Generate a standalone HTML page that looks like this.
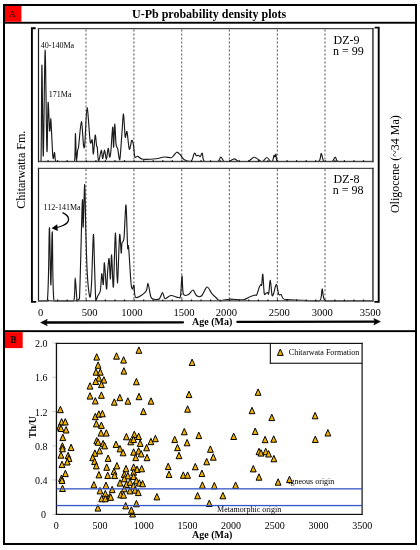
<!DOCTYPE html>
<html><head><meta charset="utf-8"><style>
html,body{margin:0;padding:0;background:#fff;}
body{width:420px;height:550px;overflow:hidden;}
svg{display:block;}
.s{font-family:"Liberation Serif","Times New Roman",serif;fill:#000;}
</style></head><body>
<svg width="420" height="550" viewBox="0 0 420 550">
<rect width="420" height="550" fill="#fff"/>
<rect x="3" y="4" width="414" height="2" fill="#000"/>
<rect x="3" y="4" width="2" height="541" fill="#000"/>
<rect x="415" y="4" width="2" height="541" fill="#000"/>
<rect x="3" y="21.8" width="414" height="1.9" fill="#000"/>
<rect x="3" y="330.2" width="414" height="1.9" fill="#000"/>
<rect x="3" y="543" width="414" height="2" fill="#000"/>
<rect x="5" y="6" width="16.4" height="15.8" fill="#FF0000"/>
<text x="12.6" y="17.2" font-size="9" text-anchor="middle" class="s">A</text>
<rect x="5" y="332.1" width="17.7" height="16" fill="#FF0000"/>
<text x="13.5" y="343.4" font-size="9.5" text-anchor="middle" class="s" font-weight="bold">B</text>
<text x="132" y="17.6" font-size="12" font-weight="bold" class="s">U-Pb probability density plots</text>
<path d="M35.7 28.2H31.9V301.9H36.2" fill="none" stroke="#000" stroke-width="1.9"/>
<path d="M374.6 27.6H378.7V301.9H374.4" fill="none" stroke="#000" stroke-width="1.9"/>
<text transform="translate(25.2 169.7) rotate(-90)" font-size="12" text-anchor="middle" class="s">Chitarwatta Fm.</text>
<text transform="translate(399.2 164.2) rotate(-90)" font-size="12" text-anchor="middle" class="s">Oligocene (~34 Ma)</text>
<line x1="86.0" y1="29.4" x2="86.0" y2="160.8" stroke="#6a6a6a" stroke-width="1.2" stroke-dasharray="2.1 1.9"/>
<line x1="86.0" y1="169.2" x2="86.0" y2="300.1" stroke="#6a6a6a" stroke-width="1.2" stroke-dasharray="2.1 1.9"/>
<line x1="133.9" y1="29.4" x2="133.9" y2="160.8" stroke="#6a6a6a" stroke-width="1.2" stroke-dasharray="2.1 1.9"/>
<line x1="133.9" y1="169.2" x2="133.9" y2="300.1" stroke="#6a6a6a" stroke-width="1.2" stroke-dasharray="2.1 1.9"/>
<line x1="181.7" y1="29.4" x2="181.7" y2="160.8" stroke="#6a6a6a" stroke-width="1.2" stroke-dasharray="2.1 1.9"/>
<line x1="181.7" y1="169.2" x2="181.7" y2="300.1" stroke="#6a6a6a" stroke-width="1.2" stroke-dasharray="2.1 1.9"/>
<line x1="229.4" y1="29.4" x2="229.4" y2="160.8" stroke="#6a6a6a" stroke-width="1.2" stroke-dasharray="2.1 1.9"/>
<line x1="229.4" y1="169.2" x2="229.4" y2="300.1" stroke="#6a6a6a" stroke-width="1.2" stroke-dasharray="2.1 1.9"/>
<line x1="277.4" y1="29.4" x2="277.4" y2="160.8" stroke="#6a6a6a" stroke-width="1.2" stroke-dasharray="2.1 1.9"/>
<line x1="277.4" y1="169.2" x2="277.4" y2="300.1" stroke="#6a6a6a" stroke-width="1.2" stroke-dasharray="2.1 1.9"/>
<line x1="325.0" y1="29.4" x2="325.0" y2="160.8" stroke="#6a6a6a" stroke-width="1.2" stroke-dasharray="2.1 1.9"/>
<line x1="325.0" y1="169.2" x2="325.0" y2="300.1" stroke="#6a6a6a" stroke-width="1.2" stroke-dasharray="2.1 1.9"/>
<path d="M38.50 161.50C38.88 161.50 40.49 161.50 41.00 161.50C41.51 147.03 41.55 65.83 41.90 65.00C42.24 64.17 42.82 158.22 43.30 156.00C43.78 153.78 44.56 50.95 45.10 50.20C45.64 49.45 46.45 143.16 46.90 151.00C47.35 158.84 47.70 105.50 48.10 102.50C48.51 99.50 49.20 128.62 49.60 131.00C50.01 133.38 50.52 118.40 50.80 118.40C51.08 118.40 51.17 125.06 51.50 131.00C51.83 136.94 52.53 154.78 53.00 158.00C53.47 161.22 54.15 151.97 54.60 152.50C55.05 153.03 54.60 160.15 56.00 161.50C58.98 161.50 71.59 161.50 74.50 161.50C75.40 157.31 75.12 133.90 75.40 133.60C75.69 133.30 76.06 157.04 76.40 159.50C76.75 161.50 77.37 151.95 77.70 150.00C78.03 148.05 78.04 150.76 78.60 146.50C79.16 142.24 80.67 121.80 81.40 121.60C82.14 121.40 82.99 141.85 83.50 145.20C84.01 148.54 84.26 149.53 84.80 143.90C85.34 138.28 86.29 108.03 87.10 107.70C87.91 107.37 89.44 136.87 90.20 141.70C90.97 146.53 91.72 138.06 92.20 139.90C92.68 141.75 92.95 154.71 93.40 154.00C93.85 153.29 94.72 136.40 95.20 135.20C95.68 134.00 96.28 144.16 96.60 146.00C96.91 147.84 97.00 145.18 97.30 147.50C97.60 149.82 98.00 161.06 98.60 161.50C99.20 161.50 100.69 150.81 101.30 150.40C101.91 150.00 102.22 158.85 102.70 158.80C103.18 158.75 103.94 150.04 104.50 150.10C105.06 150.16 105.84 159.47 106.40 159.20C106.96 158.93 107.72 148.63 108.20 148.30C108.68 147.97 109.19 156.59 109.60 157.00C110.00 157.41 110.44 155.50 110.90 151.00C111.37 146.50 112.30 127.55 112.70 127.00C113.11 126.45 113.30 147.74 113.60 147.30C113.90 146.87 114.33 124.50 114.70 124.10C115.08 123.69 115.65 140.91 116.10 144.60C116.55 148.29 117.14 146.45 117.70 148.70C118.26 150.95 119.19 161.50 119.80 159.60C120.41 157.54 121.24 141.85 121.80 135.00C122.36 128.15 122.99 113.60 123.50 113.90C124.01 114.20 124.67 134.34 125.20 137.00C125.73 139.66 126.39 129.75 127.00 131.60C127.61 133.44 128.60 147.97 129.30 149.30C130.00 150.64 131.08 141.21 131.70 140.50C132.31 139.79 132.94 142.16 133.40 144.60C133.87 147.04 134.16 155.05 134.80 156.80C135.45 158.56 136.51 155.94 137.70 156.30C138.88 156.66 139.95 158.84 142.70 159.20C145.44 159.56 152.76 159.03 156.00 158.70C159.24 158.37 162.05 157.15 164.30 157.00C166.55 156.85 169.62 157.88 171.00 157.70C172.38 157.52 172.63 156.62 173.50 155.80C174.37 154.98 175.80 152.36 176.80 152.20C177.81 152.03 179.07 153.57 180.20 154.70C181.32 155.82 182.68 158.68 184.30 159.70C185.92 160.72 189.50 161.50 191.00 161.50C192.50 160.54 193.50 154.16 194.30 153.30C195.10 152.45 195.67 155.50 196.30 155.80C196.93 156.10 197.91 155.17 198.50 155.30C199.09 155.44 199.63 157.00 200.20 156.70C200.77 156.40 201.66 152.58 202.30 153.30C202.95 154.02 202.30 160.27 204.50 161.50C206.78 161.50 215.06 161.50 217.50 161.50C219.94 160.82 219.83 157.00 220.80 157.00C221.78 157.00 222.77 160.82 224.00 161.50C225.23 161.50 227.47 161.50 229.00 161.50C230.53 161.09 232.70 158.80 234.20 158.80C235.70 158.80 236.93 161.09 239.00 161.50C241.07 161.50 245.72 161.50 248.00 161.50C250.28 160.85 252.25 157.20 254.20 157.20C256.15 157.20 259.68 160.85 261.00 161.50C262.32 161.50 262.13 161.50 263.00 161.50C263.87 160.90 265.65 157.50 266.80 157.50C267.95 157.50 269.84 160.90 270.70 161.50C271.56 161.50 272.00 161.50 272.50 161.50C273.00 160.57 273.62 155.98 274.00 155.30C274.38 154.62 274.70 157.16 275.00 157.00C275.30 156.84 275.65 153.52 276.00 154.20C276.35 154.88 276.00 160.41 277.30 161.50C283.68 161.50 311.92 161.50 318.50 161.50C321.20 160.27 320.38 153.30 321.20 153.30C322.02 153.30 322.38 160.27 324.00 161.50C325.62 161.50 330.31 161.50 332.00 161.50C333.69 160.82 334.36 157.00 335.30 157.00C336.25 157.00 335.30 160.82 338.30 161.50C343.95 161.50 367.80 161.50 373.00 161.50" fill="none" stroke="#1a1a1a" stroke-width="1.15" stroke-linejoin="round"/>
<path d="M38.50 300.80C39.82 300.80 45.66 300.80 47.30 300.80C48.93 289.85 48.88 230.17 49.40 227.80C49.92 225.43 50.36 284.37 50.80 285.00C51.23 285.63 51.82 229.63 52.30 232.00C52.78 234.37 52.30 290.48 54.00 300.80C57.23 300.80 70.62 300.80 73.80 300.80C75.20 297.35 74.70 277.80 75.20 277.80C75.70 277.80 76.45 297.77 77.10 300.80C77.74 300.80 78.72 300.80 79.50 298.00C80.28 283.11 81.74 212.15 82.30 201.50C82.86 190.85 82.84 229.55 83.20 227.00C83.56 224.45 84.31 184.05 84.70 184.50C85.09 184.95 85.45 217.47 85.80 230.00C86.14 242.53 86.59 259.15 87.00 268.00C87.41 276.85 88.02 284.65 88.50 289.00C88.98 293.35 89.73 298.05 90.20 297.00C90.67 295.95 91.12 291.38 91.60 282.00C92.08 272.62 92.95 236.60 93.40 234.50C93.85 232.40 94.24 258.25 94.60 268.00C94.96 277.75 95.29 295.38 95.80 299.50C96.31 300.80 97.31 296.85 98.00 295.50C98.69 294.15 99.83 293.77 100.40 290.50C100.97 287.23 101.36 274.58 101.80 273.70C102.23 272.81 102.91 286.24 103.30 284.60C103.69 282.97 103.92 262.14 104.40 262.80C104.88 263.46 106.02 287.62 106.50 289.00C106.98 290.38 107.21 276.57 107.60 272.00C107.99 267.43 108.68 257.45 109.10 258.50C109.52 259.55 110.03 279.52 110.40 279.00C110.78 278.48 111.15 253.80 111.60 255.00C112.05 256.20 112.83 290.30 113.40 287.00C113.97 283.70 114.80 233.60 115.40 233.00C116.00 232.40 116.77 282.70 117.40 283.00C118.03 283.30 119.03 239.50 119.60 235.00C120.17 230.50 120.84 251.80 121.20 253.00C121.56 254.20 121.58 245.25 122.00 243.00C122.42 240.75 123.40 243.70 124.00 238.00C124.60 232.30 125.46 203.65 126.00 205.00C126.54 206.35 127.21 240.70 127.60 247.00C127.99 253.30 128.09 241.60 128.60 247.00C129.11 252.40 130.43 276.70 131.00 283.00C131.57 289.30 131.95 288.64 132.40 289.00C132.85 289.36 133.49 284.12 134.00 285.40C134.51 286.67 134.03 296.56 135.80 297.50C137.57 298.44 143.97 293.77 145.80 291.70C147.63 289.63 147.25 282.95 148.00 283.70C148.75 284.45 150.00 294.40 150.80 296.70C151.60 299.00 152.04 298.65 153.30 299.00C154.56 299.35 157.82 299.98 159.20 299.00C160.58 298.02 161.63 292.55 162.50 292.50C163.37 292.45 163.75 298.25 165.00 298.70C166.25 299.15 168.81 295.68 170.80 295.50C172.80 295.32 176.85 297.43 178.30 297.50C179.75 297.57 179.94 299.25 180.50 296.00C181.06 292.75 181.58 276.15 182.00 275.80C182.42 275.45 182.36 290.87 183.30 293.70C184.25 296.53 186.85 295.25 188.30 294.70C189.75 294.14 191.74 289.83 193.00 290.00C194.26 290.17 195.39 294.93 196.70 295.80C198.00 296.67 200.15 297.12 201.70 295.80C203.25 294.48 205.50 287.38 207.00 287.00C208.50 286.62 210.25 291.61 211.70 293.30C213.15 295.00 215.45 297.18 216.70 298.30C217.94 299.43 218.05 300.67 220.00 300.80C221.95 300.80 226.20 299.37 229.70 299.20C233.19 299.03 240.25 300.07 243.30 299.70C246.35 299.32 248.25 297.40 250.00 296.70C251.75 296.00 254.00 295.25 255.00 295.00C256.00 294.75 256.07 296.12 256.70 295.00C257.33 293.88 258.58 289.05 259.20 287.50C259.81 285.95 260.43 285.07 260.80 284.70C261.18 284.32 261.40 286.57 261.70 285.00C262.00 283.43 262.43 272.95 262.80 274.20C263.18 275.44 263.75 290.44 264.20 293.30C264.65 296.17 265.31 293.42 265.80 293.30C266.30 293.18 267.06 292.44 267.50 292.50C267.94 292.56 268.28 295.53 268.70 293.70C269.12 291.87 269.81 280.11 270.30 280.30C270.80 280.50 271.49 293.05 272.00 295.00C272.51 296.95 273.06 294.92 273.70 293.30C274.34 291.68 275.55 284.06 276.30 284.20C277.05 284.33 277.95 292.62 278.70 294.20C279.45 295.77 280.48 293.95 281.30 294.70C282.12 295.45 281.30 298.28 284.20 299.20C289.96 300.12 314.00 300.80 319.70 300.80C322.20 299.23 321.36 288.70 322.20 288.70C323.04 288.70 322.20 298.99 325.30 300.80C332.92 300.80 365.85 300.80 373.00 300.80" fill="none" stroke="#1a1a1a" stroke-width="1.15" stroke-linejoin="round"/>
<rect x="37.9" y="28.1" width="1.2" height="134.10000000000002" fill="#1a1a1a"/>
<rect x="372.3" y="28.1" width="1.3" height="134.10000000000002" fill="#1a1a1a"/>
<rect x="37.9" y="28.1" width="335.7" height="1.1" fill="#333"/>
<rect x="37.9" y="160.8" width="335.7" height="1.4" fill="#444"/>
<rect x="47.5" y="160.2" width="1.2" height="1.6" fill="#111"/>
<rect x="57.0" y="160.2" width="1.2" height="1.6" fill="#111"/>
<rect x="66.6" y="160.2" width="1.2" height="1.6" fill="#111"/>
<rect x="76.1" y="160.2" width="1.2" height="1.6" fill="#111"/>
<rect x="85.7" y="160.2" width="1.2" height="1.6" fill="#111"/>
<rect x="95.3" y="160.2" width="1.2" height="1.6" fill="#111"/>
<rect x="104.8" y="160.2" width="1.2" height="1.6" fill="#111"/>
<rect x="114.4" y="160.2" width="1.2" height="1.6" fill="#111"/>
<rect x="123.9" y="160.2" width="1.2" height="1.6" fill="#111"/>
<rect x="133.5" y="160.2" width="1.2" height="1.6" fill="#111"/>
<rect x="143.1" y="160.2" width="1.2" height="1.6" fill="#111"/>
<rect x="152.6" y="160.2" width="1.2" height="1.6" fill="#111"/>
<rect x="162.2" y="160.2" width="1.2" height="1.6" fill="#111"/>
<rect x="171.7" y="160.2" width="1.2" height="1.6" fill="#111"/>
<rect x="181.3" y="160.2" width="1.2" height="1.6" fill="#111"/>
<rect x="190.9" y="160.2" width="1.2" height="1.6" fill="#111"/>
<rect x="200.4" y="160.2" width="1.2" height="1.6" fill="#111"/>
<rect x="210.0" y="160.2" width="1.2" height="1.6" fill="#111"/>
<rect x="219.5" y="160.2" width="1.2" height="1.6" fill="#111"/>
<rect x="229.1" y="160.2" width="1.2" height="1.6" fill="#111"/>
<rect x="238.7" y="160.2" width="1.2" height="1.6" fill="#111"/>
<rect x="248.2" y="160.2" width="1.2" height="1.6" fill="#111"/>
<rect x="257.8" y="160.2" width="1.2" height="1.6" fill="#111"/>
<rect x="267.3" y="160.2" width="1.2" height="1.6" fill="#111"/>
<rect x="276.9" y="160.2" width="1.2" height="1.6" fill="#111"/>
<rect x="286.5" y="160.2" width="1.2" height="1.6" fill="#111"/>
<rect x="296.0" y="160.2" width="1.2" height="1.6" fill="#111"/>
<rect x="305.6" y="160.2" width="1.2" height="1.6" fill="#111"/>
<rect x="315.1" y="160.2" width="1.2" height="1.6" fill="#111"/>
<rect x="324.7" y="160.2" width="1.2" height="1.6" fill="#111"/>
<rect x="334.3" y="160.2" width="1.2" height="1.6" fill="#111"/>
<rect x="343.8" y="160.2" width="1.2" height="1.6" fill="#111"/>
<rect x="353.4" y="160.2" width="1.2" height="1.6" fill="#111"/>
<rect x="362.9" y="160.2" width="1.2" height="1.6" fill="#111"/>
<rect x="37.9" y="167.8" width="1.2" height="133.70000000000002" fill="#1a1a1a"/>
<rect x="372.3" y="167.8" width="1.3" height="133.70000000000002" fill="#1a1a1a"/>
<rect x="37.9" y="167.8" width="335.7" height="1.1" fill="#333"/>
<rect x="37.9" y="300.1" width="335.7" height="1.4" fill="#5a5a5a"/>
<rect x="47.5" y="299.5" width="1.2" height="1.6" fill="#111"/>
<rect x="57.0" y="299.5" width="1.2" height="1.6" fill="#111"/>
<rect x="66.6" y="299.5" width="1.2" height="1.6" fill="#111"/>
<rect x="76.1" y="299.5" width="1.2" height="1.6" fill="#111"/>
<rect x="85.7" y="299.5" width="1.2" height="1.6" fill="#111"/>
<rect x="95.3" y="299.5" width="1.2" height="1.6" fill="#111"/>
<rect x="104.8" y="299.5" width="1.2" height="1.6" fill="#111"/>
<rect x="114.4" y="299.5" width="1.2" height="1.6" fill="#111"/>
<rect x="123.9" y="299.5" width="1.2" height="1.6" fill="#111"/>
<rect x="133.5" y="299.5" width="1.2" height="1.6" fill="#111"/>
<rect x="143.1" y="299.5" width="1.2" height="1.6" fill="#111"/>
<rect x="152.6" y="299.5" width="1.2" height="1.6" fill="#111"/>
<rect x="162.2" y="299.5" width="1.2" height="1.6" fill="#111"/>
<rect x="171.7" y="299.5" width="1.2" height="1.6" fill="#111"/>
<rect x="181.3" y="299.5" width="1.2" height="1.6" fill="#111"/>
<rect x="190.9" y="299.5" width="1.2" height="1.6" fill="#111"/>
<rect x="200.4" y="299.5" width="1.2" height="1.6" fill="#111"/>
<rect x="210.0" y="299.5" width="1.2" height="1.6" fill="#111"/>
<rect x="219.5" y="299.5" width="1.2" height="1.6" fill="#111"/>
<rect x="229.1" y="299.5" width="1.2" height="1.6" fill="#111"/>
<rect x="238.7" y="299.5" width="1.2" height="1.6" fill="#111"/>
<rect x="248.2" y="299.5" width="1.2" height="1.6" fill="#111"/>
<rect x="257.8" y="299.5" width="1.2" height="1.6" fill="#111"/>
<rect x="267.3" y="299.5" width="1.2" height="1.6" fill="#111"/>
<rect x="276.9" y="299.5" width="1.2" height="1.6" fill="#111"/>
<rect x="286.5" y="299.5" width="1.2" height="1.6" fill="#111"/>
<rect x="296.0" y="299.5" width="1.2" height="1.6" fill="#111"/>
<rect x="305.6" y="299.5" width="1.2" height="1.6" fill="#111"/>
<rect x="315.1" y="299.5" width="1.2" height="1.6" fill="#111"/>
<rect x="324.7" y="299.5" width="1.2" height="1.6" fill="#111"/>
<rect x="334.3" y="299.5" width="1.2" height="1.6" fill="#111"/>
<rect x="343.8" y="299.5" width="1.2" height="1.6" fill="#111"/>
<rect x="353.4" y="299.5" width="1.2" height="1.6" fill="#111"/>
<rect x="362.9" y="299.5" width="1.2" height="1.6" fill="#111"/>
<text x="40.8" y="47.5" font-size="8" class="s">40-140Ma</text>
<text x="48.8" y="97" font-size="8" class="s">171Ma</text>
<text x="43.6" y="209.8" font-size="8" class="s">112-141Ma</text>
<path d="M62.5 212.7C70 216 71 222 63 225.5C60 226.8 58 227.4 55.5 227.6" fill="none" stroke="#000" stroke-width="1.3"/>
<path d="M51.6 228.3L57.2 224.3L57.8 231Z" fill="#000"/>
<text x="333.5" y="43.7" font-size="12" class="s">DZ-9</text>
<text x="333" y="54.8" font-size="12" class="s">n = 99</text>
<text x="333.5" y="182.9" font-size="12" class="s">DZ-8</text>
<text x="332.7" y="194.3" font-size="12" class="s">n = 98</text>
<text x="40.7" y="315.8" font-size="10.6" text-anchor="middle" class="s">0</text>
<text x="89.6" y="315.8" font-size="10.6" text-anchor="middle" class="s">500</text>
<text x="131.9" y="315.8" font-size="10.6" text-anchor="middle" class="s">1000</text>
<text x="184" y="315.8" font-size="10.6" text-anchor="middle" class="s">1500</text>
<text x="226.4" y="315.8" font-size="10.6" text-anchor="middle" class="s">2000</text>
<text x="279.3" y="315.8" font-size="10.6" text-anchor="middle" class="s">2500</text>
<text x="322.3" y="315.8" font-size="10.6" text-anchor="middle" class="s">3000</text>
<text x="370.3" y="315.8" font-size="10.6" text-anchor="middle" class="s">3500</text>
<text x="212.2" y="325.4" font-size="10" font-weight="bold" text-anchor="middle" class="s">Age (Ma)</text>
<path d="M45 322.5L183 322.3M237.4 321.9L375 321.6" stroke="#000" stroke-width="2.3" stroke-linecap="round" fill="none"/>
<path d="M40.6 322.6L47.3 319.3L46.2 322.6L47.3 325.8Z" fill="#000" stroke="#000" stroke-width="0.5" stroke-linejoin="round"/>
<path d="M380.4 321.6L373.8 318.5L374.9 321.6L373.8 324.9Z" fill="#000" stroke="#000" stroke-width="0.5" stroke-linejoin="round"/>
<text x="47.6" y="347.0" font-size="10" text-anchor="end" class="s">2.0</text>
<line x1="52.5" y1="343.0" x2="56" y2="343.0" stroke="#aaa" stroke-width="0.6"/>
<text x="47.6" y="381.3" font-size="10" text-anchor="end" class="s">1.6</text>
<line x1="52.5" y1="377.3" x2="56" y2="377.3" stroke="#aaa" stroke-width="0.6"/>
<text x="47.6" y="415.5" font-size="10" text-anchor="end" class="s">1.2</text>
<line x1="52.5" y1="411.5" x2="56" y2="411.5" stroke="#aaa" stroke-width="0.6"/>
<text x="47.6" y="449.8" font-size="10" text-anchor="end" class="s">0.8</text>
<line x1="52.5" y1="445.8" x2="56" y2="445.8" stroke="#aaa" stroke-width="0.6"/>
<text x="47.6" y="484.0" font-size="10" text-anchor="end" class="s">0.4</text>
<line x1="52.5" y1="480.0" x2="56" y2="480.0" stroke="#aaa" stroke-width="0.6"/>
<text x="46.0" y="518.3" font-size="10" text-anchor="end" class="s">0</text>
<line x1="52.5" y1="514.3" x2="56" y2="514.3" stroke="#aaa" stroke-width="0.6"/>
<text x="56.2" y="528.6" font-size="10" text-anchor="middle" class="s">0</text>
<text x="99.9" y="528.6" font-size="10" text-anchor="middle" class="s">500</text>
<text x="143.7" y="528.6" font-size="10" text-anchor="middle" class="s">1000</text>
<text x="187.4" y="528.6" font-size="10" text-anchor="middle" class="s">1500</text>
<text x="231.1" y="528.6" font-size="10" text-anchor="middle" class="s">2000</text>
<text x="274.8" y="528.6" font-size="10" text-anchor="middle" class="s">2500</text>
<text x="318.6" y="528.6" font-size="10" text-anchor="middle" class="s">3000</text>
<text x="362.3" y="528.6" font-size="10" text-anchor="middle" class="s">3500</text>
<text x="212.2" y="538.2" font-size="10" font-weight="bold" text-anchor="middle" class="s">Age (Ma)</text>
<text transform="translate(35.9 427.1) rotate(-90)" font-size="10" font-weight="bold" text-anchor="middle" class="s">Th/U</text>
<text x="287.9" y="484.3" font-size="8" class="s">Igneous origin</text>
<text x="217.1" y="512.4" font-size="8" class="s">Metamorphic origin</text>
<rect x="269.8" y="342.8" width="1.1" height="21" fill="#111"/>
<rect x="269.8" y="362.7" width="92.5" height="1.1" fill="#111"/>
<text x="288.8" y="355.3" font-size="8" class="s">Chitarwata Formation</text>
<g fill="#F2B300" stroke="#000" stroke-width="1" stroke-linejoin="miter">
<path d="M280.3 349.0L283.2 355.4H277.4Z"/>
<path d="M60.4 406.3L63.3 412.7H57.5Z"/>
<path d="M61.6 418.6L64.5 425.0H58.7Z"/>
<path d="M65.3 418.6L68.2 425.0H62.4Z"/>
<path d="M59.6 423.6L62.5 430.0H56.7Z"/>
<path d="M61.0 425.1L63.9 431.5H58.1Z"/>
<path d="M66.1 426.6L69.0 433.0H63.2Z"/>
<path d="M62.8 434.2L65.7 440.6H59.9Z"/>
<path d="M62.4 442.8L65.3 449.2H59.5Z"/>
<path d="M62.5 445.4L65.4 451.8H59.6Z"/>
<path d="M71.1 444.2L74.0 450.6H68.2Z"/>
<path d="M61.0 451.8L63.9 458.2H58.1Z"/>
<path d="M68.1 452.3L71.0 458.7H65.2Z"/>
<path d="M69.0 455.1L71.9 461.5H66.1Z"/>
<path d="M67.3 458.6L70.2 465.0H64.4Z"/>
<path d="M62.0 461.2L64.9 467.6H59.1Z"/>
<path d="M65.4 470.2L68.3 476.6H62.5Z"/>
<path d="M61.5 475.0L64.4 481.4H58.6Z"/>
<path d="M62.0 477.1L64.9 483.5H59.1Z"/>
<path d="M62.5 485.1L65.4 491.5H59.6Z"/>
<path d="M96.7 353.7L99.6 360.1H93.8Z"/>
<path d="M98.1 361.9L101.0 368.3H95.2Z"/>
<path d="M96.0 368.8L98.9 375.2H93.1Z"/>
<path d="M100.3 368.8L103.2 375.2H97.4Z"/>
<path d="M98.9 374.8L101.8 381.2H96.0Z"/>
<path d="M103.9 376.7L106.8 383.1H101.0Z"/>
<path d="M95.7 378.1L98.6 384.5H92.8Z"/>
<path d="M101.4 381.2L104.3 387.6H98.5Z"/>
<path d="M90.0 382.7L92.9 389.1H87.1Z"/>
<path d="M90.0 392.7L92.9 399.1H87.1Z"/>
<path d="M101.4 391.9L104.3 398.3H98.5Z"/>
<path d="M95.3 397.6L98.2 404.0H92.4Z"/>
<path d="M114.3 398.8L117.2 405.2H111.4Z"/>
<path d="M95.3 413.3L98.2 419.7H92.4Z"/>
<path d="M98.9 410.8L101.8 417.2H96.0Z"/>
<path d="M102.4 410.4L105.3 416.8H99.5Z"/>
<path d="M96.3 420.5L99.2 426.9H93.4Z"/>
<path d="M101.4 422.0L104.3 428.4H98.5Z"/>
<path d="M101.0 429.7L103.9 436.1H98.1Z"/>
<path d="M106.3 429.7L109.2 436.1H103.4Z"/>
<path d="M96.7 437.5L99.6 443.9H93.8Z"/>
<path d="M98.1 438.9L101.0 445.3H95.2Z"/>
<path d="M103.1 440.4L106.0 446.8H100.2Z"/>
<path d="M104.6 442.5L107.5 448.9H101.7Z"/>
<path d="M99.6 447.5L102.5 453.9H96.7Z"/>
<path d="M94.9 449.9L97.8 456.3H92.0Z"/>
<path d="M92.7 454.3L95.6 460.7H89.8Z"/>
<path d="M108.1 455.0L111.0 461.4H105.2Z"/>
<path d="M116.0 441.0L118.9 447.4H113.1Z"/>
<path d="M94.6 458.2L97.5 464.6H91.7Z"/>
<path d="M96.3 462.5L99.2 468.9H93.4Z"/>
<path d="M106.7 463.9L109.6 470.3H103.8Z"/>
<path d="M98.9 471.5L101.8 477.9H96.0Z"/>
<path d="M107.7 472.1L110.6 478.5H104.8Z"/>
<path d="M114.0 468.2L116.9 474.6H111.1Z"/>
<path d="M114.6 472.2L117.5 478.6H111.7Z"/>
<path d="M93.9 481.5L96.8 487.9H91.0Z"/>
<path d="M106.0 482.1L108.9 488.5H103.1Z"/>
<path d="M100.0 487.5L102.9 493.9H97.1Z"/>
<path d="M112.2 486.3L115.1 492.7H109.3Z"/>
<path d="M105.3 490.4L108.2 496.8H102.4Z"/>
<path d="M109.6 493.5L112.5 499.9H106.7Z"/>
<path d="M101.7 495.4L104.6 501.8H98.8Z"/>
<path d="M105.3 495.4L108.2 501.8H102.4Z"/>
<path d="M97.9 504.7L100.8 511.1H95.0Z"/>
<path d="M110.7 493.9L113.6 500.3H107.8Z"/>
<path d="M138.9 346.9L141.8 353.3H136.0Z"/>
<path d="M116.5 352.8L119.4 359.2H113.6Z"/>
<path d="M123.6 356.7L126.5 363.1H120.7Z"/>
<path d="M123.9 367.7L126.8 374.1H121.0Z"/>
<path d="M136.4 378.4L139.3 384.8H133.5Z"/>
<path d="M119.8 394.3L122.7 400.7H116.9Z"/>
<path d="M139.0 393.3L141.9 399.7H136.1Z"/>
<path d="M127.9 397.8L130.8 404.2H125.0Z"/>
<path d="M151.0 397.8L153.9 404.2H148.1Z"/>
<path d="M143.4 408.2L146.3 414.6H140.5Z"/>
<path d="M126.4 433.4L129.3 439.8H123.5Z"/>
<path d="M134.3 431.2L137.2 437.6H131.4Z"/>
<path d="M138.6 433.1L141.5 439.5H135.7Z"/>
<path d="M130.7 438.4L133.6 444.8H127.8Z"/>
<path d="M133.6 436.2L136.5 442.6H130.7Z"/>
<path d="M140.2 440.0L143.1 446.4H137.3Z"/>
<path d="M150.9 438.3L153.8 444.7H148.0Z"/>
<path d="M155.4 435.3L158.3 441.7H152.5Z"/>
<path d="M120.0 445.5L122.9 451.9H117.1Z"/>
<path d="M123.1 449.4L126.0 455.8H120.2Z"/>
<path d="M133.6 448.8L136.5 455.2H130.7Z"/>
<path d="M138.6 447.7L141.5 454.1H135.7Z"/>
<path d="M141.2 450.5L144.1 456.9H138.3Z"/>
<path d="M146.6 444.4L149.5 450.8H143.7Z"/>
<path d="M147.0 454.3L149.9 460.7H144.1Z"/>
<path d="M135.7 454.3L138.6 460.7H132.8Z"/>
<path d="M116.9 462.5L119.8 468.9H114.0Z"/>
<path d="M126.0 465.4L128.9 471.8H123.1Z"/>
<path d="M133.6 463.9L136.5 470.3H130.7Z"/>
<path d="M137.1 466.1L140.0 472.5H134.2Z"/>
<path d="M141.7 465.4L144.6 471.8H138.8Z"/>
<path d="M124.3 471.1L127.2 477.5H121.4Z"/>
<path d="M127.9 472.5L130.8 478.9H125.0Z"/>
<path d="M133.6 468.9L136.5 475.3H130.7Z"/>
<path d="M133.6 473.2L136.5 479.6H130.7Z"/>
<path d="M124.3 475.4L127.2 481.8H121.4Z"/>
<path d="M136.4 477.5L139.3 483.9H133.5Z"/>
<path d="M120.0 479.7L122.9 486.1H117.1Z"/>
<path d="M126.4 481.1L129.3 487.5H123.5Z"/>
<path d="M130.0 478.9L132.9 485.3H127.1Z"/>
<path d="M133.6 482.5L136.5 488.9H130.7Z"/>
<path d="M139.3 479.7L142.2 486.1H136.4Z"/>
<path d="M142.6 480.4L145.5 486.8H139.7Z"/>
<path d="M124.3 485.4L127.2 491.8H121.4Z"/>
<path d="M130.0 487.5L132.9 493.9H127.1Z"/>
<path d="M135.0 486.8L137.9 493.2H132.1Z"/>
<path d="M138.3 489.2L141.2 495.6H135.4Z"/>
<path d="M120.7 491.5L123.6 497.9H117.8Z"/>
<path d="M123.6 491.8L126.5 498.2H120.7Z"/>
<path d="M125.7 502.5L128.6 508.9H122.8Z"/>
<path d="M136.4 500.4L139.3 506.8H133.5Z"/>
<path d="M132.6 510.6L135.5 517.0H129.7Z"/>
<path d="M131.4 506.8L134.3 513.2H128.5Z"/>
<path d="M156.9 493.5L159.8 499.9H154.0Z"/>
<path d="M168.2 463.2L171.1 469.6H165.3Z"/>
<path d="M169.0 471.1L171.9 477.5H166.1Z"/>
<path d="M192.1 359.1L195.0 365.5H189.2Z"/>
<path d="M189.0 391.2L191.9 397.6H186.1Z"/>
<path d="M187.6 405.8L190.5 412.2H184.7Z"/>
<path d="M184.3 428.4L187.2 434.8H181.4Z"/>
<path d="M198.8 432.2L201.7 438.6H195.9Z"/>
<path d="M174.7 436.2L177.6 442.6H171.8Z"/>
<path d="M187.1 439.4L190.0 445.8H184.2Z"/>
<path d="M177.5 444.3L180.4 450.7H174.6Z"/>
<path d="M210.4 445.9L213.3 452.3H207.5Z"/>
<path d="M179.0 452.3L181.9 458.7H176.1Z"/>
<path d="M213.3 453.8L216.2 460.2H210.4Z"/>
<path d="M206.7 458.4L209.6 464.8H203.8Z"/>
<path d="M195.3 463.4L198.2 469.8H192.4Z"/>
<path d="M183.3 471.9L186.2 478.3H180.4Z"/>
<path d="M187.6 471.9L190.5 478.3H184.7Z"/>
<path d="M201.9 470.1L204.8 476.5H199.0Z"/>
<path d="M202.4 481.9L205.3 488.3H199.5Z"/>
<path d="M214.3 482.4L217.2 488.8H211.4Z"/>
<path d="M197.6 492.4L200.5 498.8H194.7Z"/>
<path d="M222.9 492.4L225.8 498.8H220.0Z"/>
<path d="M209.3 500.1L212.2 506.5H206.4Z"/>
<path d="M258.1 388.9L261.0 395.3H255.2Z"/>
<path d="M252.0 407.3L254.9 413.7H249.1Z"/>
<path d="M271.8 414.2L274.7 420.6H268.9Z"/>
<path d="M233.7 433.1L236.6 439.5H230.8Z"/>
<path d="M255.2 428.1L258.1 434.5H252.3Z"/>
<path d="M265.1 436.3L268.0 442.7H262.2Z"/>
<path d="M273.7 435.8L276.6 442.2H270.8Z"/>
<path d="M259.0 448.3L261.9 454.7H256.1Z"/>
<path d="M261.0 449.7L263.9 456.1H258.1Z"/>
<path d="M265.7 448.3L268.6 454.7H262.8Z"/>
<path d="M268.6 450.6L271.5 457.0H265.7Z"/>
<path d="M273.9 455.4L276.8 461.8H271.0Z"/>
<path d="M253.3 465.5L256.2 471.9H250.4Z"/>
<path d="M259.0 473.8L261.9 480.2H256.1Z"/>
<path d="M278.1 478.8L281.0 485.2H275.2Z"/>
<path d="M289.5 476.2L292.4 482.6H286.6Z"/>
<path d="M235.6 482.0L238.5 488.4H232.7Z"/>
<path d="M315.1 412.4L318.0 418.8H312.2Z"/>
<path d="M327.9 429.6L330.8 436.0H325.0Z"/>
<path d="M315.3 436.1L318.2 442.5H312.4Z"/>
</g>
<rect x="55.8" y="342.8" width="306.8" height="1.2" fill="#111"/>
<rect x="55.8" y="513.8" width="306.8" height="1.2" fill="#111"/>
<rect x="55.8" y="342.8" width="1.3" height="172.2" fill="#111"/>
<rect x="361.5" y="342.8" width="1.2" height="172.2" fill="#111"/>
<rect x="56.6" y="488.2" width="305.6" height="1.3" fill="#3656C8"/>
<rect x="56.6" y="504.9" width="305.6" height="1.3" fill="#3656C8"/>
</svg>
</body></html>
